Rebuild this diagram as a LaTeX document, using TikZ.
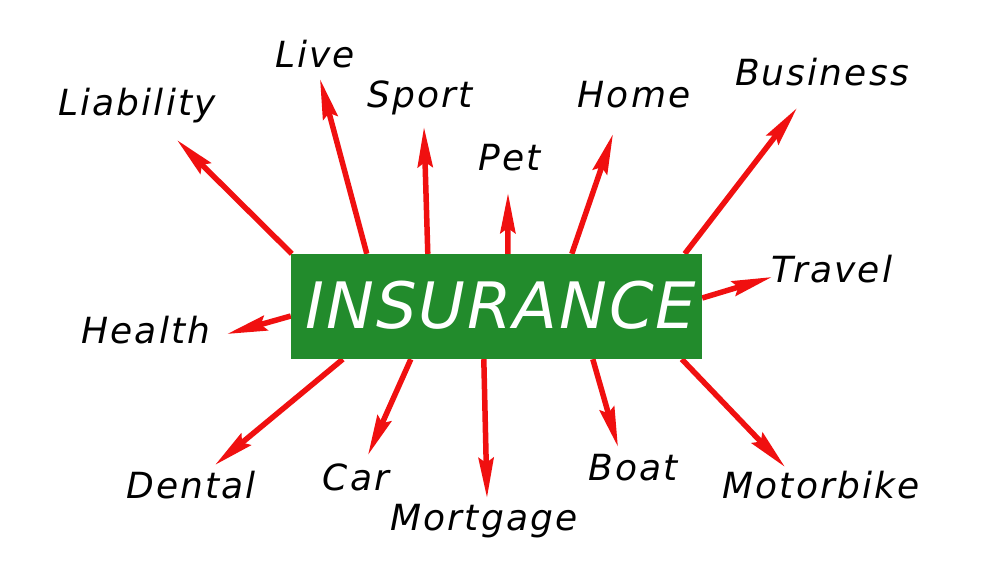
\documentclass[tikz,border=0pt]{standalone}
\usepackage{fontspec}
\setmainfont{DejaVu Sans}
\newfontfamily\handfont[LetterSpace=6]{DejaVu Sans}
\newfontfamily\bigfont[LetterSpace=3]{DejaVu Sans}
\usetikzlibrary{arrows.meta,calc}
\definecolor{boxgreen}{RGB}{34,139,44}
\definecolor{arrred}{RGB}{240,16,16}
\pgfdeclarelayer{back}
\pgfdeclarelayer{bg}
\pgfsetlayers{back,bg,main}
\begin{document}
\begin{tikzpicture}[x=1pt,y=-1pt,
  arr/.style={draw=arrred, line width=5.5pt, -{Stealth[length=40pt,width=15pt,inset=5pt]}},
  lbl/.style={font=\handfont\itshape\fontsize{36}{36}\selectfont, anchor=base, inner sep=0pt, text=black},
  mainbox/.style={fill=boxgreen, minimum width=411pt, minimum height=105pt, inner sep=0pt},
  maintext/.style={text=white, inner sep=0pt, font=\bigfont\itshape\fontsize{64}{64}\selectfont}
]
\useasboundingbox (0,0) rectangle (992,578);
\begin{pgfonlayer}{back}
\fill[white] (0,0) rectangle (992,578);
\end{pgfonlayer}

% tips
\coordinate (tLiab) at (177,140);
\coordinate (tLive) at (320,79);
\coordinate (tSport) at (424,127);
\coordinate (tPet) at (508,193);
\coordinate (tHome) at (613,134);
\coordinate (tBus) at (797,108);
\coordinate (tTravel) at (772,277);
\coordinate (tHealth) at (227,334);
\coordinate (tDental) at (215,465);
\coordinate (tCar) at (368,455);
\coordinate (tMort) at (487,498);
\coordinate (tBoat) at (618,447);
\coordinate (tMoto) at (785,467);

\node[mainbox] (box) at (496.5,306.5) {};
\node[maintext] (ins) at (501,305) {INSURANCE};

% starts on the box
\path (box.north west) ++(1,0) coordinate (sLiab);
\path (box.north west) ++(76,0) coordinate (sLive);
\path (box.north west) ++(137,0) coordinate (sSport);
\path (box.north west) ++(217,0) coordinate (sPet);
\path (box.north west) ++(281,0) coordinate (sHome);
\path (box.north west) ++(394,0) coordinate (sBus);
\path (box.east) ++(0,-8.5) coordinate (sTravel);
\path (box.west) ++(0,9.5) coordinate (sHealth);
\path (box.south west) ++(52,0) coordinate (sDental);
\path (box.south west) ++(120,0) coordinate (sCar);
\path (box.south west) ++(193,0) coordinate (sMort);
\path (box.south west) ++(302,0) coordinate (sBoat);
\path (box.south west) ++(391,0) coordinate (sMoto);

\begin{pgfonlayer}{bg}
\foreach \n in {Liab,Live,Sport,Pet,Home,Bus,Travel,Health,Dental,Car,Mort,Boat,Moto}
  \draw[arr] (s\n) -- (t\n);
\end{pgfonlayer}

% labels
\node[lbl] (lLiab) at (137,115) {Liability};
\node[lbl] (lLive) at (315,67) {Live};
\node[lbl] (lSport) at (420,107) {Sport};
\node[lbl] (lPet) at (510,170) {Pet};
\node[lbl] (lHome) at (634,107) {Home};
\node[lbl] (lBus) at (822,85) {Business};
\node[lbl] (lTravel) at (832,282) {Travel};
\node[lbl] (lHealth) at (146,343) {Health};
\node[lbl] (lDental) at (191,498) {Dental};
\node[lbl] (lCar) at (356,490) {Car};
\node[lbl] (lMort) at (484,530) {Mortgage};
\node[lbl] (lBoat) at (633,480) {Boat};
\node[lbl] (lMoto) at (821,498) {Motorbike};
\end{tikzpicture}
\end{document}
